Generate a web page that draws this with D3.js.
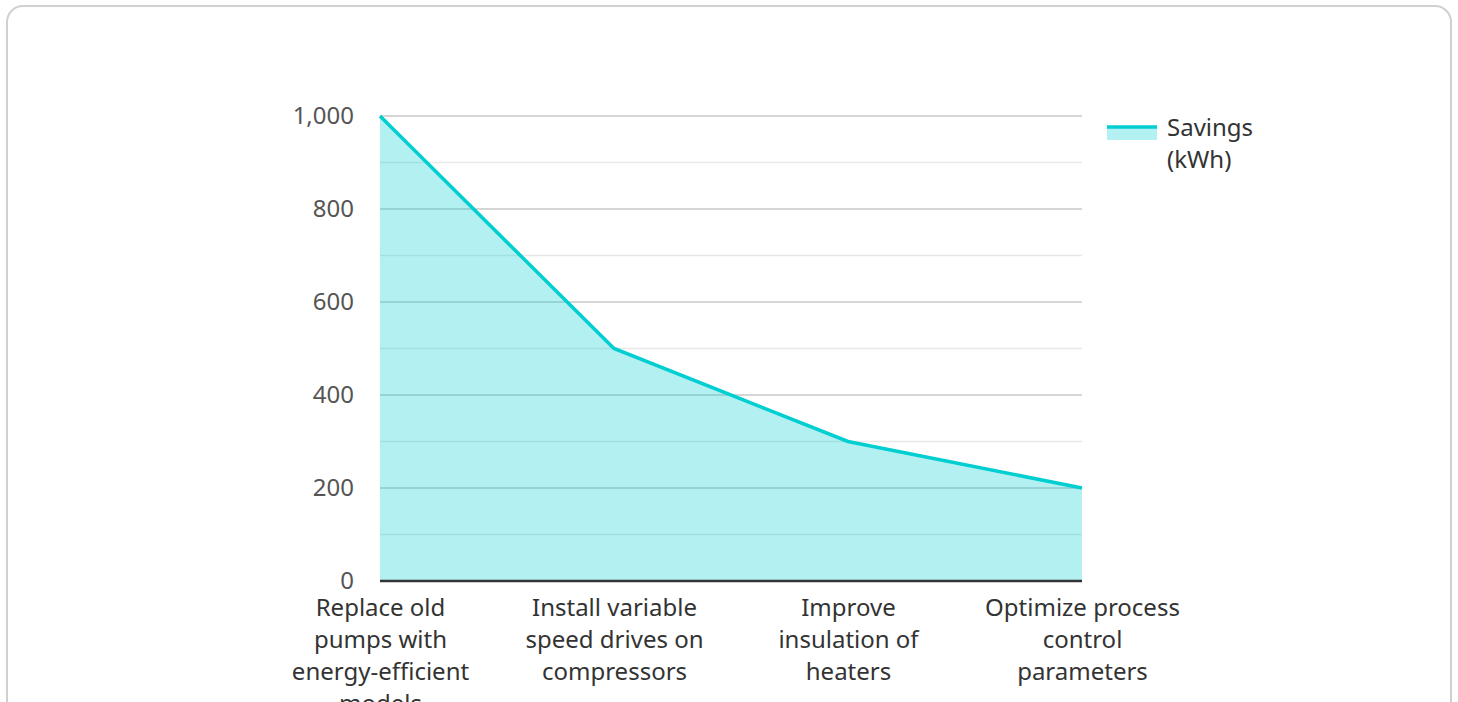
<!DOCTYPE html>
<html><head><meta charset="utf-8">
<script src="https://cdn.jsdelivr.net/npm/d3@7"></script>
<style>
html,body{margin:0;padding:0;background:#fff;}
svg{display:block;font-family:"Noto Sans","Open Sans",sans-serif;}
</style></head>
<body><svg id="c" width="1458" height="702"></svg>
<script>
const categories = [
  "Replace old pumps with energy-efficient models",
  "Install variable speed drives on compressors",
  "Improve insulation of heaters",
  "Optimize process control parameters"
];
const savings = [1000, 500, 300, 200];
const seriesName = "Savings (kWh)";
const yTicks = [0, 200, 400, 600, 800, 1000];
const yMinorTicks = [100, 300, 500, 700, 900];

(function () {
const FS = 24;
const svg = d3.select("#c");
svg.append("rect").attr("x", 7).attr("y", 6).attr("width", 1444).attr("height", 710)
  .attr("rx", 16).attr("fill", "#fff").attr("stroke", "#d0d0d0").attr("stroke-width", 2);

const pL = 380, pR = 1082, pT = 116, pB = 581;
const x = d3.scalePoint().domain(categories).range([pL, pR]);
const y = d3.scaleLinear().domain([0, 1000]).range([pB, pT]);

const color = "#00CED1";

svg.append("g").selectAll("line").data(yMinorTicks).join("line")
  .attr("x1", pL).attr("x2", pR)
  .attr("y1", d => y(d)).attr("y2", d => y(d))
  .attr("stroke", "#e8e8e8").attr("stroke-width", 1.5);
svg.append("g").selectAll("line").data(yTicks.filter(d => d > 0)).join("line")
  .attr("x1", pL).attr("x2", pR)
  .attr("y1", d => y(d)).attr("y2", d => y(d))
  .attr("stroke", "#c8c8c8").attr("stroke-width", 1.5);

const data = categories.map((c, i) => ({c, v: savings[i]}));
svg.append("path").datum(data)
  .attr("d", d3.area().x(d => x(d.c)).y0(y(0)).y1(d => y(d.v)))
  .attr("fill", color).attr("fill-opacity", 0.3);
svg.append("path").datum(data)
  .attr("d", d3.line().x(d => x(d.c)).y(d => y(d.v)))
  .attr("fill", "none").attr("stroke", color).attr("stroke-width", 3.5);

svg.append("line").attr("x1", pL).attr("x2", pR).attr("y1", pB).attr("y2", pB)
  .attr("stroke", "#333").attr("stroke-width", 2.5);

const yAxis = d3.axisLeft(y).tickValues(yTicks).tickSize(0).tickPadding(26)
  .tickFormat(d3.format(","));
const gy = svg.append("g").attr("transform", `translate(${pL},0)`).call(yAxis);
gy.select(".domain").remove();
gy.selectAll("text").attr("font-size", FS).attr("fill", "#555")
  .attr("font-family", '"Noto Sans","Open Sans",sans-serif');

const xAxis = d3.axisBottom(x).tickSize(0).tickPadding(0);
const gx = svg.append("g").attr("transform", `translate(0,${pB})`).call(xAxis);
gx.select(".domain").remove();
gx.selectAll("text").attr("font-size", FS).attr("fill", "#333")
  .attr("font-family", '"Noto Sans","Open Sans",sans-serif')
  .attr("dy", null).attr("y", 0)
  .each(function(d) {
    const t = d3.select(this);
    const words = d.split(" ");
    const maxW = 207;
    t.text(null);
    let lines = [], cur = [];
    const tmp = t.append("tspan");
    for (const w of words) {
      cur.push(w);
      tmp.text(cur.join(" "));
      if (tmp.node().getComputedTextLength() > maxW && cur.length > 1) {
        cur.pop();
        lines.push(cur.join(" "));
        cur = [w];
      }
    }
    lines.push(cur.join(" "));
    tmp.remove();
    lines.forEach((l, i) => {
      t.append("tspan").attr("x", 0).attr("y", 35 + i * 32).text(l);
    });
  });

const lg = svg.append("g");
lg.append("rect").attr("x", 1107).attr("y", 126).attr("width", 50).attr("height", 14)
  .attr("fill", color).attr("fill-opacity", 0.3);
lg.append("line").attr("x1", 1107).attr("x2", 1157).attr("y1", 127).attr("y2", 127)
  .attr("stroke", color).attr("stroke-width", 3.5);
const lt = lg.append("text").attr("font-size", FS).attr("fill", "#333");
const nameParts = ["Savings", "(kWh)"];
nameParts.forEach((p, i) => lt.append("tspan").attr("x", 1167).attr("y", 136 + i * 32).text(p));
})();
</script></body></html>
